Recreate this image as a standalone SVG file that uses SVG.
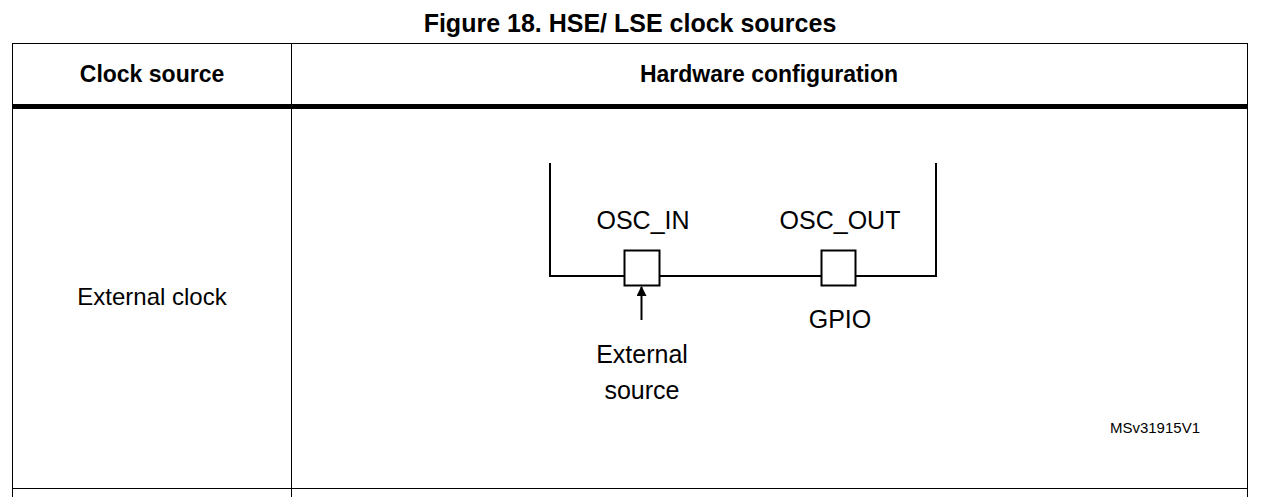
<svg xmlns="http://www.w3.org/2000/svg" width="1263" height="497" viewBox="0 0 1263 497">
<style>
text{font-family:"Liberation Sans",Arial,sans-serif;fill:#000}
.h{font-weight:bold;font-size:23px;text-anchor:middle}
.t{font-size:25px;text-anchor:middle}
.ln{stroke:#000;stroke-width:1.5;fill:none}
.pin{stroke:#000;stroke-width:2;fill:#fff}
</style>
<defs><marker id="ah" markerWidth="10" markerHeight="10" refX="9" refY="5" orient="auto" markerUnits="userSpaceOnUse"><path d="M0,0 L10,5 L0,10 z" fill="#000"/></marker></defs>
<text x="630" y="32" class="h" style="font-size:25px">Figure 18. HSE/ LSE clock sources</text>
<g id="table">
<rect x="12.5" y="43.5" width="1235" height="445" class="ln" style="stroke-width:1"/>
<line x1="291.5" y1="43" x2="291.5" y2="497" class="ln" style="stroke-width:1"/>
<line x1="12" y1="106.5" x2="1248" y2="106.5" stroke="#000" stroke-width="5"/>
<line x1="12.5" y1="488.5" x2="12.5" y2="497" class="ln" style="stroke-width:1"/>
<line x1="1247.5" y1="488.5" x2="1247.5" y2="497" class="ln" style="stroke-width:1"/>
<text x="152" y="82" class="h">Clock source</text>
<text x="769" y="82" class="h">Hardware configuration</text>
<text x="152" y="305" class="t" style="font-size:24px">External clock</text>
</g>
<g id="chip">
<path d="M550,163 V276 H936 V163" class="ln" style="stroke-width:2"/>
</g>
<g id="osc_in">
<rect x="624.5" y="250.5" width="35" height="35" class="pin"/>
<text x="643" y="229" class="t">OSC_IN</text>
</g>
<g id="osc_out">
<rect x="821.5" y="250.5" width="34" height="35" class="pin"/>
<text x="840" y="229" class="t">OSC_OUT</text>
<text x="840" y="328" class="t">GPIO</text>
</g>
<g id="ext">
<text x="642" y="363" class="t">External</text>
<text x="642" y="399" class="t">source</text>
</g>
<g id="connectors">
<line x1="641.5" y1="320" x2="641.5" y2="287" class="ln" style="stroke-width:2" marker-end="url(#ah)"/>
</g>
<text x="1200" y="433" style="font-size:15px;text-anchor:end">MSv31915V1</text>
</svg>
